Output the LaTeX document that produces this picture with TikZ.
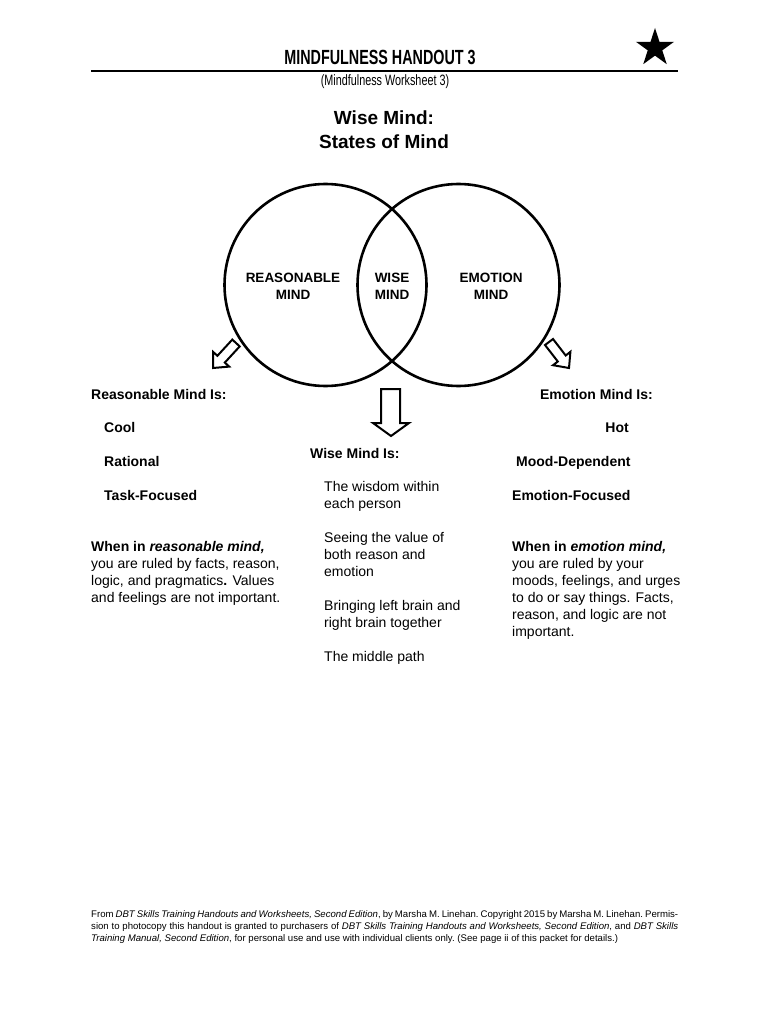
\documentclass[tikz,border=0pt]{standalone}
\usepackage{fontspec}
\setmainfont{Liberation Sans}
\newfontfamily\condfont[FakeStretch=0.70]{Liberation Sans}
\newfontfamily\condfontb[FakeStretch=0.72]{Liberation Sans}
\begin{document}
\begin{tikzpicture}[x=1pt,y=-1pt,
  txt/.style={inner sep=0pt, anchor=base west, font=\fontsize{14}{17}\selectfont},
  txtr/.style={txt, anchor=base east},
  hd/.style={txt, font=\fontsize{14}{17}\selectfont\bfseries},
  hdr/.style={hd, anchor=base east},
  circlabel/.style={inner sep=0pt, anchor=base, font=\fontsize{13.5}{17}\selectfont\bfseries},
  ring/.style={draw=black, line width=2.6pt},
  blockarrow/.style={draw=black, line width=2pt, fill=white, line join=miter}]
\useasboundingbox (0,0) rectangle (768,1024);
\fill[white] (0,0) rectangle (768,1024);

% header
\node[inner sep=0pt, anchor=base, font=\fontsize{20.5}{21}\selectfont\condfont\bfseries] (title) at (380,65) {MINDFULNESS HANDOUT 3};
\coordinate (ruleL) at (91,71);
\coordinate (ruleR) at (678,71);
\draw[line width=2pt] (ruleL) -- (ruleR);
\node[inner sep=0pt, anchor=base, font=\fontsize{15}{16}\selectfont\condfontb] (subtitle) at (385,86) {(Mindfulness Worksheet 3)};
\fill[shift={(655,48)}] (-90:20) -- (-54:7.64) -- (-18:20) -- (18:7.64) -- (54:20) -- (90:7.64) -- (126:20) -- (162:7.64) -- (198:20) -- (234:7.64) -- cycle;

\node[inner sep=0pt, anchor=base, font=\fontsize{19}{20}\selectfont\bfseries] (wm1) at (384,125) {Wise Mind:};
\node[inner sep=0pt, anchor=base, font=\fontsize{19}{20}\selectfont\bfseries] (wm2) at (384,149) {States of Mind};

% venn
\draw[ring] (325.5,285) circle (101);
\draw[ring] (458.5,285) circle (101);
\node[circlabel] (rm1) at (293,282) {REASONABLE};
\node[circlabel] (rm2) at (293,299) {MIND};
\node[circlabel] (wi1) at (392,282) {WISE};
\node[circlabel] (wi2) at (392,299) {MIND};
\node[circlabel] (em1) at (491,282) {EMOTION};
\node[circlabel] (em2) at (491,299) {MIND};

% arrows
\draw[blockarrow] (239.7,346.4) -- (232.3,339.6) -- (217.4,355.8) -- (213.0,351.8) -- (213,368) -- (229.2,366.6) -- (224.8,362.6) -- cycle;
\draw[blockarrow] (381,389) -- (400,389) -- (400,423) -- (409,423) -- (391,436) -- (373,423) -- (381,423) -- cycle;
\draw[blockarrow] (553,339) -- (545,345) -- (557.8,361.5) -- (553,365.2) -- (569,368) -- (570.4,351.8) -- (565.7,355.5) -- cycle;

% left column
\node[hd] (rmis) at (91,399) {Reasonable Mind Is:};
\node[hd] (cool) at (104,432) {Cool};
\node[hd] (rational) at (104,466) {Rational};
\node[hd] (task) at (104,500) {Task-Focused};
\node[hd] (rp1) at (91,551) {When in \textit{reasonable mind,}};
\node[txt] (rp2) at (91,568) {you are ruled by facts, reason,};
\node[txt] (rp3) at (91,585) {logic, and pragmatics\textbf{.} Values};
\node[txt] (rp4) at (91,602) {and feelings are not important.};

% middle column
\node[hd] (wmis) at (310,458) {Wise Mind Is:};
\node[txt] (w1) at (324,491) {The wisdom within};
\node[txt] (w2) at (324,508) {each person};
\node[txt] (w3) at (324,542) {Seeing the value of};
\node[txt] (w4) at (324,559) {both reason and};
\node[txt] (w5) at (324,576) {emotion};
\node[txt] (w6) at (324,610) {Bringing left brain and};
\node[txt] (w7) at (324,627) {right brain together};
\node[txt] (w8) at (324,661) {The middle path};

% right column
\node[hdr] (emis) at (653,399) {Emotion Mind Is:};
\node[hdr] (hot) at (629,432) {Hot};
\node[hd] (mood) at (516,466) {Mood-Dependent};
\node[hd] (efoc) at (512,500) {Emotion-Focused};
\node[hd] (ep1) at (512,551) {When in \textit{emotion mind,}};
\node[txt] (ep2) at (512,568) {you are ruled by your};
\node[txt] (ep3) at (512,585) {moods, feelings, and urges};
\node[txt] (ep4) at (512,602) {to do or say things. Facts,};
\node[txt] (ep5) at (512,619) {reason, and logic are not};
\node[txt] (ep6) at (512,636) {important.};

% footer
\node[inner sep=0pt, anchor=north west, text width=587pt, align=justify,
  font=\fontsize{9.6}{12}\selectfont] (footer) at (91,910)
  {\hyphenpenalty=10000 \frenchspacing From \textit{DBT Skills Training Handouts and Worksheets, Second Edition}, by Marsha M. Linehan. Copyright 2015 by Marsha M. Linehan. Permis-\linebreak sion to photocopy this handout is granted to purchasers of \textit{DBT Skills Training Handouts and Worksheets, Second Edition}, and \textit{DBT Skills\linebreak Training Manual, Second Edition}, for personal use and use with individual clients only. (See page ii of this packet for details.)};
\end{tikzpicture}
\end{document}
